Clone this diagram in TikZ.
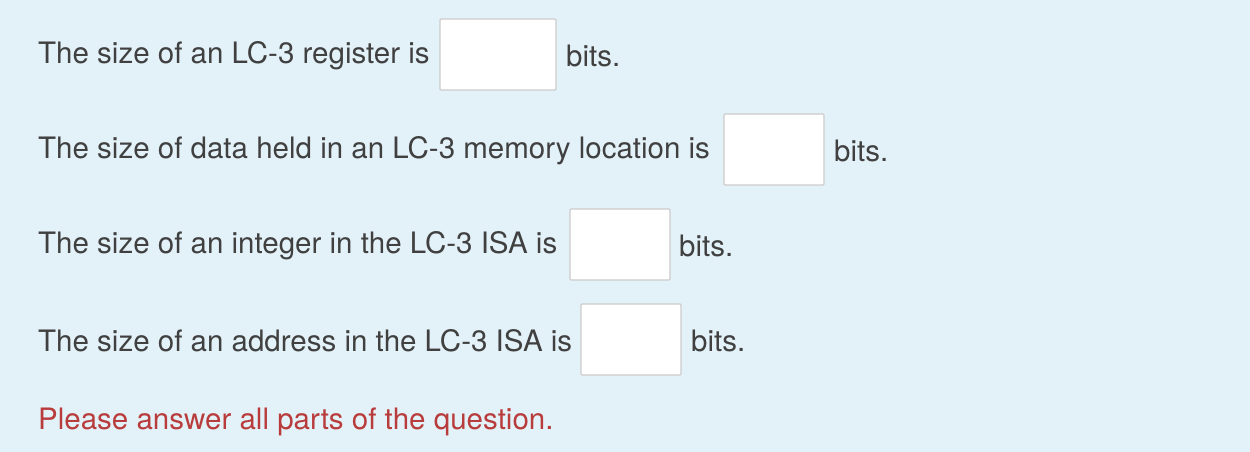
\documentclass[tikz,border=0pt]{standalone}
\usepackage{fontspec}
\setmainfont{TeX Gyre Heros}
\begin{document}
\begin{tikzpicture}[x=1pt,y=-1pt,
  txt/.style={anchor=west,inner sep=0pt,font=\fontsize{29.5}{34}\selectfont,text=black!75},
  ansbox/.style={draw=black!20,line width=1.2pt,fill=white,rounded corners=1pt}]
\useasboundingbox[fill={rgb,255:red,227;green,241;blue,248}] (0,0) rectangle (1250,452);
\node[txt] (t1) at (38,56) {The size of an LC-3 register is};
\draw[ansbox] (440,19) rectangle (556,90); \node (b1) at (498,54) {};
\node[txt] (u1) at (566,56) {bits.};
\node[txt] (t2) at (38,151) {The size of data held in an LC-3 memory location is};
\draw[ansbox] (724,114) rectangle (824,185); \node (b2) at (774,149) {};
\node[txt] (u2) at (834,151) {bits.};
\node[txt] (t3) at (38,246) {The size of an integer in the LC-3 ISA is};
\draw[ansbox] (570,209) rectangle (670,280); \node (b3) at (620,244) {};
\node[txt] (u3) at (679,246) {bits.};
\node[txt] (t4) at (38,341) {The size of an address in the LC-3 ISA is};
\draw[ansbox] (581,304) rectangle (681,375); \node (b4) at (631,339) {};
\node[txt] (u4) at (691,341) {bits.};
\node[txt,text={rgb,255:red,185;green,60;blue,60}] (w) at (38,422) {Please answer all parts of the question.};
\end{tikzpicture}
\end{document}
